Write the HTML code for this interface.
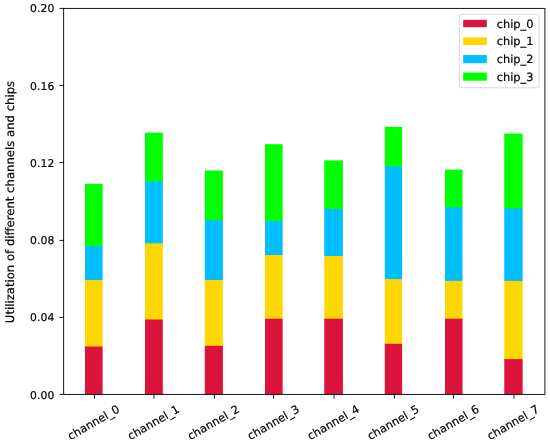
<!DOCTYPE html>
<html><head><meta charset="utf-8"><title>Utilization of different channels and chips</title>
<style>
html,body{margin:0;padding:0;background:#fff;}
body{width:550px;height:443px;overflow:hidden;}
svg{display:block;}
text{font-family:"DejaVu Sans","Liberation Sans",sans-serif;fill:#000;stroke:#000;stroke-width:0.2px;text-rendering:geometricPrecision;}
.yt{font-size:10.8px;letter-spacing:0.1px;}
.xt{font-size:11.3px;}
.yl{font-size:11.66px;}
.lg{font-size:11.35px;}
</style></head><body>
<svg width="550" height="443" viewBox="0 0 550 443">
<rect x="0" y="0" width="550" height="443" fill="#ffffff"/>

<rect x="85.00" y="183.70" width="17.60" height="62.90" fill="#00FF00"/>
<rect x="85.00" y="245.90" width="17.60" height="34.80" fill="#00BFFF"/>
<rect x="85.00" y="280.00" width="17.60" height="67.20" fill="#FFD700"/>
<rect x="85.00" y="346.50" width="17.60" height="47.90" fill="#DC143C"/>
<rect x="145.00" y="132.70" width="17.80" height="49.40" fill="#00FF00"/>
<rect x="145.00" y="181.40" width="17.80" height="62.70" fill="#00BFFF"/>
<rect x="145.00" y="243.40" width="17.80" height="76.80" fill="#FFD700"/>
<rect x="145.00" y="319.50" width="17.80" height="74.90" fill="#DC143C"/>
<rect x="204.80" y="170.50" width="18.10" height="50.20" fill="#00FF00"/>
<rect x="204.80" y="220.00" width="18.10" height="60.70" fill="#00BFFF"/>
<rect x="204.80" y="280.00" width="18.10" height="66.50" fill="#FFD700"/>
<rect x="204.80" y="345.80" width="18.10" height="48.60" fill="#DC143C"/>
<rect x="265.00" y="144.20" width="17.65" height="77.40" fill="#00FF00"/>
<rect x="265.00" y="220.90" width="17.65" height="34.90" fill="#00BFFF"/>
<rect x="265.00" y="255.10" width="17.65" height="64.30" fill="#FFD700"/>
<rect x="265.00" y="318.70" width="17.65" height="75.70" fill="#DC143C"/>
<rect x="324.25" y="160.40" width="18.65" height="49.20" fill="#00FF00"/>
<rect x="324.25" y="208.90" width="18.65" height="47.80" fill="#00BFFF"/>
<rect x="324.25" y="256.00" width="18.65" height="63.40" fill="#FFD700"/>
<rect x="324.25" y="318.70" width="18.65" height="75.70" fill="#DC143C"/>
<rect x="384.80" y="126.90" width="17.30" height="40.20" fill="#00FF00"/>
<rect x="384.80" y="166.40" width="17.30" height="113.40" fill="#00BFFF"/>
<rect x="384.80" y="279.10" width="17.30" height="65.40" fill="#FFD700"/>
<rect x="384.80" y="343.80" width="17.30" height="50.60" fill="#DC143C"/>
<rect x="445.00" y="169.60" width="17.50" height="38.40" fill="#00FF00"/>
<rect x="445.00" y="207.30" width="17.50" height="74.30" fill="#00BFFF"/>
<rect x="445.00" y="280.90" width="17.50" height="38.50" fill="#FFD700"/>
<rect x="445.00" y="318.70" width="17.50" height="75.70" fill="#DC143C"/>
<rect x="504.25" y="133.60" width="18.40" height="75.50" fill="#00FF00"/>
<rect x="504.25" y="208.40" width="18.40" height="73.20" fill="#00BFFF"/>
<rect x="504.25" y="280.90" width="18.40" height="78.90" fill="#FFD700"/>
<rect x="504.25" y="359.10" width="18.40" height="35.30" fill="#DC143C"/>
<rect x="63.65" y="8.40" width="481.25" height="386.00" fill="none" stroke="#000" stroke-width="0.92"/>
<line x1="59.45" y1="394.40" x2="63.65" y2="394.40" stroke="#000" stroke-width="0.92"/>
<text class="yt" x="54.55" y="399.05" text-anchor="end">0.00</text>
<line x1="59.45" y1="317.40" x2="63.65" y2="317.40" stroke="#000" stroke-width="0.92"/>
<text class="yt" x="54.55" y="321.27" text-anchor="end">0.04</text>
<line x1="59.45" y1="240.40" x2="63.65" y2="240.40" stroke="#000" stroke-width="0.92"/>
<text class="yt" x="54.55" y="244.23" text-anchor="end">0.08</text>
<line x1="59.45" y1="162.45" x2="63.65" y2="162.45" stroke="#000" stroke-width="0.92"/>
<text class="yt" x="54.55" y="166.95" text-anchor="end">0.12</text>
<line x1="59.45" y1="85.45" x2="63.65" y2="85.45" stroke="#000" stroke-width="0.92"/>
<text class="yt" x="54.55" y="89.67" text-anchor="end">0.16</text>
<line x1="59.45" y1="8.40" x2="63.65" y2="8.40" stroke="#000" stroke-width="0.92"/>
<text class="yt" x="54.55" y="12.25" text-anchor="end">0.20</text>
<line x1="94.50" y1="394.40" x2="94.50" y2="398.60" stroke="#000" stroke-width="0.92"/>
<text class="xt" transform="translate(93.80 422.95) rotate(-30)" text-anchor="middle" y="3.39">channel_0</text>
<line x1="154.00" y1="394.40" x2="154.00" y2="398.60" stroke="#000" stroke-width="0.92"/>
<text class="xt" transform="translate(153.73 422.95) rotate(-30)" text-anchor="middle" y="3.39">channel_1</text>
<line x1="214.40" y1="394.40" x2="214.40" y2="398.60" stroke="#000" stroke-width="0.92"/>
<text class="xt" transform="translate(213.66 422.95) rotate(-30)" text-anchor="middle" y="3.39">channel_2</text>
<line x1="273.60" y1="394.40" x2="273.60" y2="398.60" stroke="#000" stroke-width="0.92"/>
<text class="xt" transform="translate(273.59 422.95) rotate(-30)" text-anchor="middle" y="3.39">channel_3</text>
<line x1="334.00" y1="394.40" x2="334.00" y2="398.60" stroke="#000" stroke-width="0.92"/>
<text class="xt" transform="translate(333.52 422.95) rotate(-30)" text-anchor="middle" y="3.39">channel_4</text>
<line x1="394.40" y1="394.40" x2="394.40" y2="398.60" stroke="#000" stroke-width="0.92"/>
<text class="xt" transform="translate(393.45 422.95) rotate(-30)" text-anchor="middle" y="3.39">channel_5</text>
<line x1="453.50" y1="394.40" x2="453.50" y2="398.60" stroke="#000" stroke-width="0.92"/>
<text class="xt" transform="translate(453.38 422.95) rotate(-30)" text-anchor="middle" y="3.39">channel_6</text>
<line x1="514.00" y1="394.40" x2="514.00" y2="398.60" stroke="#000" stroke-width="0.92"/>
<text class="xt" transform="translate(513.31 422.95) rotate(-30)" text-anchor="middle" y="3.39">channel_7</text>
<text class="yl" transform="translate(13.90 202.00) rotate(-90)" text-anchor="middle">Utilization of different channels and chips</text>
<rect x="459.40" y="14.30" width="79.60" height="73.45" rx="2.3" ry="2.3" fill="#ffffff" fill-opacity="0.8" stroke="#cccccc" stroke-opacity="0.8" stroke-width="0.9"/>
<rect x="463.20" y="19.90" width="23.60" height="7.30" fill="#DC143C"/>
<text class="lg" x="496.80" y="27.60">chip_0</text>
<rect x="463.20" y="37.35" width="23.60" height="7.70" fill="#FFD700"/>
<text class="lg" x="496.80" y="45.10">chip_1</text>
<rect x="463.20" y="55.05" width="23.60" height="8.15" fill="#00BFFF"/>
<text class="lg" x="496.80" y="63.20">chip_2</text>
<rect x="463.20" y="72.55" width="23.60" height="8.15" fill="#00FF00"/>
<text class="lg" x="496.80" y="80.60">chip_3</text>
</svg></body></html>
